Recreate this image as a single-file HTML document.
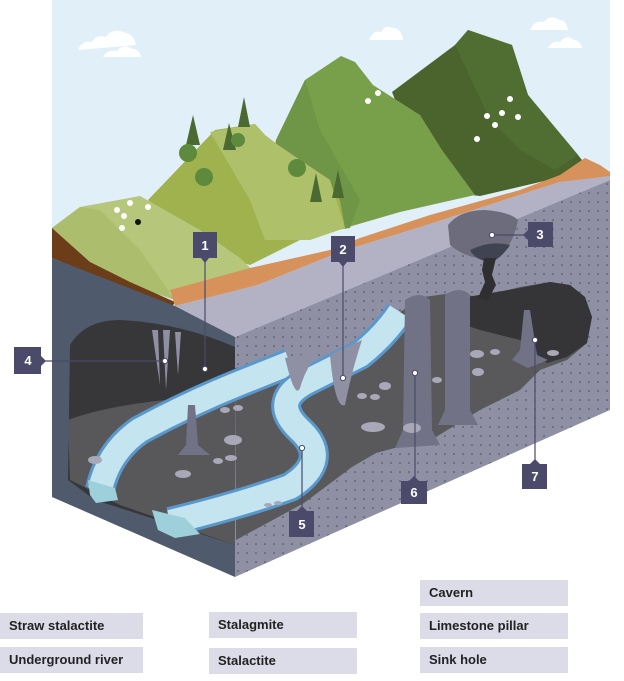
<!DOCTYPE html>
<html><head><meta charset="utf-8"><style>
html,body{margin:0;padding:0;background:#fff;}
body{width:624px;height:681px;position:relative;overflow:hidden;font-family:"Liberation Sans",sans-serif;}
.lb{position:absolute;width:148px;height:26px;background:#dcdbe8;font-weight:bold;font-size:13px;color:#222;line-height:26px;padding-left:9px;box-sizing:border-box;}
</style></head><body>
<svg width="624" height="681" viewBox="0 0 624 681" style="position:absolute;left:0;top:0">
<defs>
<pattern id="dots" width="9" height="9" patternUnits="userSpaceOnUse"><rect width="9" height="9" fill="#8f90a4"/><circle cx="4" cy="4" r="0.8" fill="#4a4a5e"/></pattern>
</defs>
<rect x="52" y="0" width="558" height="330" fill="#e1eff8"/>
<g fill="#fff">
<path d="M78,50 q4,-10 14,-8 q4,-8 14,-5 q6,-10 20,-4 q8,2 10,12 z"/>
<path d="M103,57 q4,-8 14,-6 q6,-8 16,-2 q6,0 8,8 z"/>
<path d="M369,40 q4,-10 12,-8 q4,-8 12,-4 q8,0 10,12 z"/>
<path d="M530,30 q4,-10 14,-8 q6,-8 16,-2 q6,0 8,10 z"/>
<path d="M548,48 q4,-8 12,-6 q6,-8 14,-2 q6,0 8,8 z"/>
</g>
<polygon points="392,92 455,45 468,30 512,45 528,95 578,155 590,170 540,182 480,196 430,190" fill="#4b632c"/>
<polygon points="455,45 468,30 512,45 528,95 578,155 555,170 520,150 490,120" fill="#506e32"/>
<polygon points="276,140 305,80 341,56 355,62 373,85 420,115 442,150 475,195 400,212 345,228 300,235 265,220" fill="#78a04a"/>
<polygon points="276,140 305,80 320,130 360,200 350,228 300,235 265,220" fill="#6e9646"/>
<polygon points="148,200 215,130 255,124 265,135 278,145 320,175 340,200 345,228 300,240 250,265 200,250" fill="#a0b24e"/>
<polygon points="210,132 255,124 265,135 278,145 330,180 345,228 310,240 265,240 250,200" fill="#afc06a"/>
<polygon points="52,228 80,207 140,196 200,230 240,258 265,282 180,296 130,280" fill="#b6c67a"/>
<polygon points="52,228 80,207 100,210 140,250 175,300 130,285 90,262" fill="#adbd6e"/>
<g fill="#4a6a32"><polygon points="193,115 186,145 200,145"/><polygon points="244,97 238,127 250,127"/><polygon points="229,123 223,150 236,150"/><polygon points="316,173 310,202 322,202"/><polygon points="338,170 332,198 344,198"/></g>
<g fill="#5e8a3e"><circle cx="188" cy="153" r="9"/><circle cx="204" cy="177" r="9"/><circle cx="297" cy="168" r="9"/><circle cx="238" cy="140" r="7"/></g>
<g fill="#fff"><circle cx="117" cy="210" r="3"/><circle cx="130" cy="203" r="3"/><circle cx="148" cy="207" r="3"/><circle cx="124" cy="216" r="3"/><circle cx="122" cy="228" r="3"/><circle cx="368" cy="101" r="3"/><circle cx="378" cy="93" r="3"/><circle cx="487" cy="116" r="3"/><circle cx="502" cy="113" r="3"/><circle cx="518" cy="117" r="3"/><circle cx="510" cy="99" r="3"/><circle cx="495" cy="125" r="3"/><circle cx="477" cy="139" r="3"/></g>
<circle cx="138" cy="222" r="3" fill="#111"/>
<polygon points="52,228 90,262 130,282 175,302 172,307 52,258" fill="#6b3d18"/>
<polygon points="170,290 250,268 330,250 360,238 430,215 520,190 560,175 585,158 600,165 610,172 610,178 560,182 430,224 340,252 258,285 175,306" fill="#d6925a"/>
<polygon points="175,306 258,285 340,252 430,224 560,182 610,176 610,180 235,337" fill="#b3b2c4"/>
<polygon points="52,258 175,306 235,337 235,577 52,497" fill="#505a6d"/>
<polygon points="235,337 610,180 610,410 235,577" fill="url(#dots)"/>
<path d="M70,345 Q85,320 120,320 Q180,323 235,347 L235,545 L95,500 L68,480 Z" fill="#373739"/>
<path d="M68,420 Q120,400 235,395 L235,545 L120,505 L70,480 Z" fill="#58585a"/>
<path d="M235,368 L276,363 L304,373 L328,357 L360,337 L392,317 L424,297 L452,293 L480,297 L520,287 L550,282 L570,285 L585,297 L592,317 L587,343 L567,360 L540,370 L520,390 L480,410 L436,437 L376,453 L352,467 L304,503 L236,540 Z" fill="#59595c"/>
<path d="M467,297 L520,288 L550,282 L570,285 L585,297 L592,317 L587,343 L567,357 L547,363 L520,340 L480,330 L450,320 Z" fill="#353537"/>
<g fill="none" stroke-linecap="butt" stroke-linejoin="round">
<path d="M100,490 Q108,452 140,430 Q190,403 240,383 L290,363" stroke="#5a98cc" stroke-width="30"/>
<path d="M100,490 Q108,452 140,430 Q190,403 240,383 L290,363" stroke="#c4e5ef" stroke-width="24"/>
<path d="M170,522 Q240,505 290,487 Q332,460 300,430 Q268,400 310,380 L360,355 Q385,335 400,312" stroke="#5a98cc" stroke-width="30"/>
<path d="M170,522 Q240,505 290,487 Q332,460 300,430 Q268,400 310,380 L360,355 Q385,335 400,312" stroke="#c4e5ef" stroke-width="24"/>
</g>
<polygon points="88,480 115,488 118,500 96,503 90,495" fill="#9ed0dc"/>
<polygon points="152,510 185,518 200,534 175,538 158,530" fill="#9ed0dc"/>
<g fill="#8f90a4"><path d="M285,358 Q295,400 300,388 Q305,370 318,352 Z"/><path d="M330,355 Q335,410 345,405 Q352,370 362,340 Z"/></g>
<path d="M448,225 Q460,210 485,210 Q510,212 518,220 Q512,250 495,258 L490,260 Q465,258 450,245 Z" fill="#6c6c7c"/>
<path d="M470,250 Q490,240 510,245 Q500,260 490,262 Q475,260 470,250Z" fill="#3f4352"/>
<path d="M484,258 L496,258 L492,275 L496,285 L488,300 L478,298 L485,282 L482,270 Z" fill="#2f2f31"/>
<path d="M405,300 Q420,290 430,300 L432,430 L440,445 L395,448 L403,430 Z" fill="#727287"/>
<path d="M445,295 Q460,285 470,295 L470,410 L478,425 L438,425 L445,410 Z" fill="#727287"/>
<path d="M524,310 L530,310 L537,355 L548,360 L528,368 L512,360 L520,350 Z" fill="#727287"/>
<path d="M188,405 L195,405 L198,445 L210,455 L178,455 L186,445 Z" fill="#727287"/>
<g fill="#8f90a4"><path d="M152,330 L158,330 L160,385 Z"/><path d="M163,330 L170,330 L166,390 Z"/><path d="M175,332 L181,332 L178,375 Z"/></g>
<g fill="#a8a8b8"><ellipse cx="95" cy="460" rx="7" ry="4"/><ellipse cx="183" cy="474" rx="8" ry="4"/><ellipse cx="233" cy="440" rx="9" ry="5"/><ellipse cx="231" cy="458" rx="6" ry="3"/><ellipse cx="218" cy="461" rx="5" ry="3"/><ellipse cx="225" cy="410" rx="5" ry="3"/><ellipse cx="238" cy="408" rx="5" ry="3"/><ellipse cx="373" cy="427" rx="12" ry="5"/><ellipse cx="412" cy="428" rx="9" ry="5"/><ellipse cx="385" cy="386" rx="6" ry="4"/><ellipse cx="362" cy="396" rx="5" ry="3"/><ellipse cx="375" cy="397" rx="5" ry="3"/><ellipse cx="437" cy="380" rx="5" ry="3"/><ellipse cx="477" cy="354" rx="7" ry="4"/><ellipse cx="478" cy="372" rx="6" ry="4"/><ellipse cx="495" cy="352" rx="5" ry="3"/><ellipse cx="553" cy="353" rx="6" ry="3"/><ellipse cx="278" cy="503" rx="4" ry="2"/><ellipse cx="268" cy="505" rx="4" ry="2"/></g>
<g stroke="#4a4a6a" stroke-width="1.2" fill="none">
<line x1="205" y1="258" x2="205" y2="369"/><line x1="343" y1="262" x2="343" y2="378"/><line x1="527" y1="235" x2="492" y2="235"/><line x1="41" y1="361" x2="165" y2="361"/><line x1="302" y1="511" x2="302" y2="448"/><line x1="415" y1="481" x2="415" y2="373"/><line x1="535" y1="464" x2="535" y2="340"/>
</g>
<g fill="#fff" stroke="#4a4a6a" stroke-width="1"><circle cx="205" cy="369" r="2.6"/><circle cx="343" cy="378" r="2.6"/><circle cx="492" cy="235" r="2.6"/><circle cx="165" cy="361" r="2.6"/><circle cx="302" cy="448" r="2.6"/><circle cx="415" cy="373" r="2.6"/><circle cx="535" cy="340" r="2.6"/></g>
<g fill="#4b4a6b">
<rect x="193" y="232" width="24" height="26"/><polygon points="201,258 209,258 205,263"/>
<rect x="331" y="236" width="24" height="26"/><polygon points="339,262 347,262 343,267"/>
<rect x="528" y="222" width="25" height="25"/><polygon points="528,230 528,240 523,235"/>
<rect x="14" y="347" width="27" height="27"/><polygon points="41,356 41,366 46,361"/>
<rect x="289" y="511" width="25" height="26"/><polygon points="297,511 307,511 302,506"/>
<rect x="401" y="481" width="26" height="23"/><polygon points="409,481 419,481 414,476"/>
<rect x="522" y="464" width="25" height="25"/><polygon points="530,464 540,464 535,459"/>
</g>
<g fill="#fff" font-family="Liberation Sans, sans-serif" font-weight="bold" font-size="13" text-anchor="middle">
<text x="205" y="250">1</text><text x="343" y="254">2</text><text x="540" y="239">3</text><text x="28" y="365">4</text><text x="302" y="529">5</text><text x="414" y="497">6</text><text x="535" y="481">7</text>
</g>
</svg>
<div class="lb" style="left:0;top:613px;width:143px">Straw stalactite</div>
<div class="lb" style="left:0;top:647px;width:143px">Underground river</div>
<div class="lb" style="left:209px;top:612px">Stalagmite</div>
<div class="lb" style="left:209px;top:648px">Stalactite</div>
<div class="lb" style="left:420px;top:580px">Cavern</div>
<div class="lb" style="left:420px;top:613px">Limestone pillar</div>
<div class="lb" style="left:420px;top:647px">Sink hole</div>
</body></html>
